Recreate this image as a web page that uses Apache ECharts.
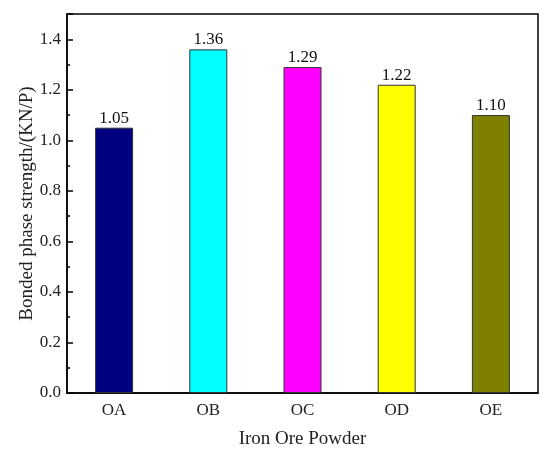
<!DOCTYPE html>
<html><head><meta charset="utf-8">
<script src="https://cdn.jsdelivr.net/npm/echarts@6/dist/echarts.min.js"></script>
<style>html,body{margin:0;padding:0;background:#fff}#c{width:550px;height:454px}</style>
</head><body><div id="c"></div>
<script>
const categories = ['OA','OB','OC','OD','OE'];
const values = [1.05, 1.36, 1.29, 1.22, 1.10];
const colors = ['#000080','#00FFFF','#FF00FF','#FFFF00','#808000'];
const yTicks = [0, 0.2, 0.4, 0.6, 0.8, 1.0, 1.2, 1.4];

const font = 'Liberation Serif';
const chart = echarts.init(document.getElementById('c'));
chart.setOption({
  animation: false,
  grid: {left: 67, right: 12, top: 14, bottom: 61, containLabel: false, outerBoundsMode: 'none',
    show: true, borderColor: '#000', borderWidth: 1.5, backgroundColor: 'transparent'},
  xAxis: [{
    type: 'category', data: categories, position: 'bottom',
    name: 'Iron Ore Powder', nameLocation: 'middle', nameGap: 37, nameMoveOverlap: false,
    nameTextStyle: {fontFamily: font, fontSize: 19, color: '#222'},
    axisLine: {lineStyle: {color: '#000', width: 1.5}},
    axisTick: {alignWithLabel: true, inside: true, length: 6, lineStyle: {color: '#000', width: 1.5}},
    axisLabel: {fontFamily: font, fontSize: 17, color: '#222', margin: 9}
  }, {
    type: 'category', data: categories, position: 'bottom', gridIndex: 0,
    axisLine: {show: false},
    axisTick: {inside: true, length: 3, lineStyle: {color: '#000', width: 1.5}},
    axisLabel: {show: false}
  }],
  yAxis: [{
    type: 'value', min: 0, max: 1.5, interval: 0.2,
    name: 'Bonded phase strength/(KN/P)', nameLocation: 'middle', nameGap: 30, nameMoveOverlap: false,
    nameTextStyle: {fontFamily: font, fontSize: 19, color: '#222'},
    axisLine: {show: true, lineStyle: {color: '#000', width: 1.5}},
    axisTick: {show: true, inside: true, length: 6, lineStyle: {color: '#000', width: 1.5}},
    axisLabel: {fontFamily: font, fontSize: 17, color: '#222', margin: 6,
      formatter: v => yTicks.some(t => Math.abs(t - v) < 1e-6) ? v.toFixed(1) : ''},
    splitLine: {show: false}
  }, {
    type: 'value', min: 0, max: 1.5, interval: 0.1, position: 'left',
    axisLine: {show: false},
    axisTick: {show: true, inside: true, length: 3, lineStyle: {color: '#000', width: 1.5}},
    axisLabel: {show: false},
    splitLine: {show: false}
  }],
  series: [{
    type: 'bar', xAxisIndex: 0, yAxisIndex: 0, barWidth: 38,
    data: values.map((v, i) => ({value: v, itemStyle: {color: colors[i]}})),
    itemStyle: {borderColor: '#333', borderWidth: 1},
    label: {show: true, position: 'top', distance: 1, fontFamily: font, fontSize: 17, color: '#111',
      formatter: p => p.value.toFixed(2)}
  }]
});
</script></body></html>
